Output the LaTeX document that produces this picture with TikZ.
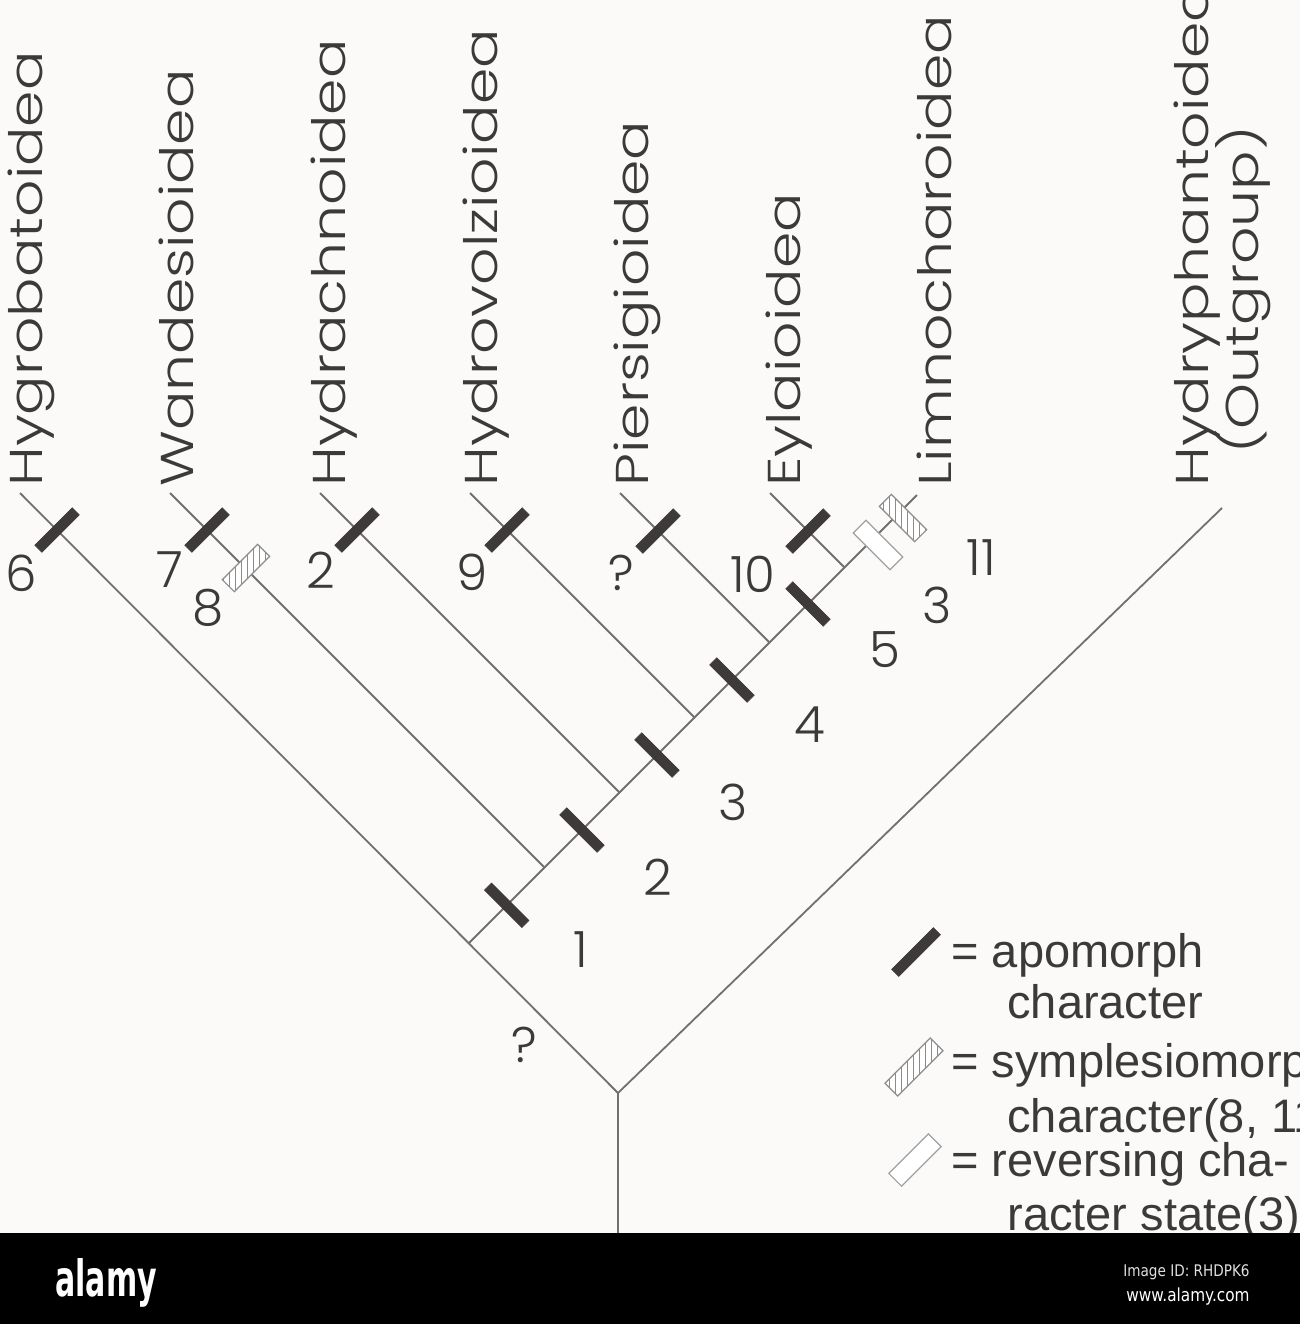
\documentclass[tikz,border=0pt]{standalone}
\usepackage{fontspec}
\usepackage{graphicx}
\usetikzlibrary{patterns}
\IfFontExistsTF{Poppins-Light}{\newfontfamily\geo{Poppins-Light}}{%
  \IfFontExistsTF{Poppins Light}{\newfontfamily\geo{Poppins Light}}{\newfontfamily\geo{Poppins}}}
\newfontfamily\helv{Liberation Sans}
\newfontfamily\dejav{DejaVu Sans}
\definecolor{bgc}{HTML}{FBFAF8}
\definecolor{ln}{HTML}{707070}
\definecolor{tickc}{HTML}{3E3A3A}
\definecolor{hatc}{HTML}{8C8C8C}
\definecolor{revc}{HTML}{A0A0A0}
\definecolor{txt}{HTML}{3A3A3A}
\tikzset{
  branch/.style={draw=ln, line width=0.9pt},
  apo/.style={rectangle, draw=tickc, fill=tickc, minimum width=26.5pt, minimum height=5pt, inner sep=0pt, line width=0.3pt},
  sym/.style={rectangle, draw=hatc, preaction={fill=white}, pattern=vertical lines, pattern color=hatc, minimum width=25pt, minimum height=8.5pt, inner sep=0pt, line width=0.6pt},
  rev/.style={rectangle, draw=revc, fill=white, minimum width=26pt, minimum height=9pt, inner sep=0pt, line width=0.6pt},
  taxon/.style={text=txt, font=\geo\fontsize{23}{27}\selectfont, inner sep=0pt, rotate=90, anchor=base west},
  num/.style={text=txt, font=\geo\fontsize{25}{30}\selectfont, inner sep=0pt},
  leg/.style={text=txt, font=\helv\fontsize{23.5}{28}\selectfont, inner sep=0pt, anchor=base west}
}
\newcommand{\wide}[1]{\scalebox{1.27}[1]{#1}}
\begin{document}
\begin{tikzpicture}[x=0.5pt,y=-0.5pt]
\useasboundingbox (0,0) rectangle (1300,1324);
\clip (0,0) rectangle (1300,1324);
\fill[bgc] (0,0) rectangle (1300,1324);

% coordinates
\coordinate (root) at (618,1093);
\coordinate (base) at (618,1240);
\coordinate (tOut) at (1222,508);
\coordinate (t1) at (20,493);
\coordinate (t2) at (170,493);
\coordinate (t3) at (320,493);
\coordinate (t4) at (470,493);
\coordinate (t5) at (620,493);
\coordinate (t6) at (770,493);
\coordinate (t7) at (917,495);
\coordinate (j1) at (469,943);
\coordinate (j2) at (544.5,867.5);
\coordinate (j3) at (619.5,792.5);
\coordinate (j4) at (694.5,717.5);
\coordinate (j5) at (769.5,642.5);
\coordinate (j6) at (844.5,567.5);

% branches
\draw[branch] (root) -- (base);
\draw[branch] (root) -- (t1);
\draw[branch] (root) -- (tOut);
\draw[branch] (j1) -- (t7);
\draw[branch] (j2) -- (t2);
\draw[branch] (j3) -- (t3);
\draw[branch] (j4) -- (t4);
\draw[branch] (j5) -- (t5);
\draw[branch] (j6) -- (t6);

% terminal apomorphies
\node[apo, rotate=45] (k1) at (57,530) {};
\node[apo, rotate=45] (k2) at (207,530) {};
\node[apo, rotate=45] (k3) at (357,530) {};
\node[apo, rotate=45] (k4) at (507,530) {};
\node[apo, rotate=45] (k5) at (658,531) {};
\node[apo, rotate=45] (k6) at (808,531) {};
\node[sym, rotate=45] (h8) at (246,568) {};

% spine apomorphies
\node[apo, rotate=-45] (s1) at (506.75,905.25) {};
\node[apo, rotate=-45] (s2) at (582,830) {};
\node[apo, rotate=-45] (s3) at (657,755) {};
\node[apo, rotate=-45] (s4) at (732,680) {};
\node[apo, rotate=-45] (s5) at (808,604) {};
\node[rev, rotate=-45] (r3) at (878,545) {};
\node[sym, rotate=-45] (h11) at (903,518) {};

% number labels
\node[num] (n6) at (21,573) {6};
\node[num] (n7) at (170,570) {7};
\node[num] (n8) at (208,608) {8};
\node[num] (n2a) at (321,570) {2};
\node[num] (n9) at (472,572) {9};
\node[num] (nq1) at (621,573) {?};
\node[num] (n10) at (753,574) {10};
\node[num] (n11) at (981,558) {11};
\node[num] (n3a) at (937,605) {3};
\node[num] (n5) at (885,650) {5};
\node[num] (n4) at (810,725) {4};
\node[num] (n3b) at (733,802) {3};
\node[num] (n2b) at (658,877) {2};
\node[num] (n1) at (581,950) {1};
\node[num] (nq2) at (524,1045) {?};

% taxa
\node[taxon] (x1) at (42,487) {\wide{Hygrobatoidea}};
\node[taxon] (x2) at (193,487) {\wide{Wandesioidea}};
\node[taxon] (x3) at (345,487) {\wide{Hydrachnoidea}};
\node[taxon] (x4) at (497,487) {\wide{Hydrovolzioidea}};
\node[taxon] (x5) at (648,487) {\wide{Piersigioidea}};
\node[taxon] (x6) at (800,487) {\wide{Eylaioidea}};
\node[taxon] (x7) at (951,487) {\wide{Limnocharoidea}};
\node[taxon] (x8) at (1208,487) {\wide{Hydryphantoidea}};
\node[taxon] (x9) at (1258,454) {\wide{(Outgroup)}};

% legend
\node[apo, rotate=45, minimum width=29.5pt] (la) at (916,952) {};
\node[leg] (l1) at (951,967) {= apomorph};
\node[leg] (l1b) at (1007,1018) {character};
\node[sym, rotate=45, minimum width=32pt, minimum height=9pt] (lh) at (914,1067) {};
\node[leg] (l2) at (951,1077) {= symplesiomorph};
\node[leg] (l2b) at (1007,1132) {character(8, 11)};
\node[rev, rotate=45, minimum width=28pt, minimum height=9pt] (lr) at (915,1160) {};
\node[leg] (l3) at (951,1176) {= reversing cha-};
\node[leg] (l3b) at (1007,1230) {racter state(3)};

% watermark bar
\fill[black] (0,1233) rectangle (1300,1324);
\node[white, font=\dejav\bfseries\fontsize{25}{28}\selectfont, anchor=base west, inner sep=0pt] (alamy) at (55,1296) {\scalebox{0.6}[1]{alamy}};
\node[white!88!black, font=\dejav\fontsize{8}{10}\selectfont, anchor=base east, inner sep=0pt] (imgid) at (1250,1276) {\scalebox{0.85}[1]{Image ID: RHDPK6}};
\node[white, font=\dejav\fontsize{9}{11}\selectfont, anchor=base east, inner sep=0pt] (www) at (1250,1301) {\scalebox{0.85}[1]{www.alamy.com}};
\end{tikzpicture}
\end{document}
